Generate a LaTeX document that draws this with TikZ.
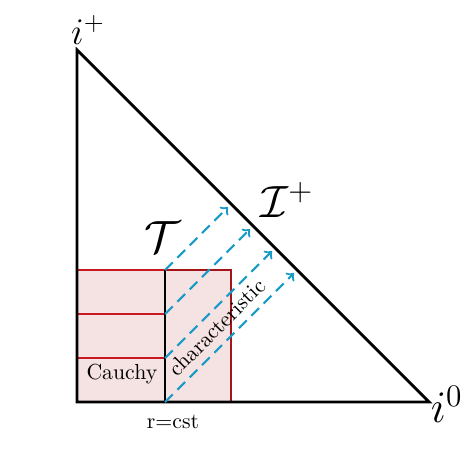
\documentclass[tikz,border=0pt]{standalone}
\usepackage{amsmath}
\usepackage{amssymb}
\usepackage{tikz}
\usetikzlibrary{arrows,positioning,calc}

\definecolor{slicered}{RGB}{200,25,35}
\definecolor{boxred}{RGB}{165,20,25}
\definecolor{regionpink}{RGB}{245,226,226}
\definecolor{raycyan}{RGB}{25,155,200}

\begin{document}
\begin{tikzpicture}[x=0.71cm, y=0.71cm,
            every node/.style={inner sep=1pt},
            edge/.style={draw, line width=1.3pt},
            slice/.style={draw=slicered, line width=1.2pt},
            ray/.style={->, draw=raycyan, line width=1pt, dash pattern=on 5pt off 3pt, shorten >=2pt}]
        \useasboundingbox (-1.75,-1.045) rectangle (9.02,9.136);
        \coordinate (o) at (0,0);
        \coordinate (top) at (0,8);
        \coordinate (right) at (8,0);
        \coordinate (rb) at (2,0);
        \coordinate (rt) at (2,3);
        % data region
        \filldraw[fill=regionpink, draw=boxred, line width=0.6pt] (o) rectangle (3.5,3);
        \foreach \k in {1,2,3} {
            \coordinate (cl\k) at (0,\k);
            \coordinate (cr\k) at (2,\k);
            \draw[slice] (cl\k) -- (cr\k);
        }
        % Penrose triangle
        \draw[edge] (right) -- (o) -- (top) -- cycle;
        \draw[edge] (rb) -- (rt);
        % outgoing characteristics
        \foreach \k in {0,...,3} {
            \coordinate (s\k) at (2,\k);
            \coordinate (e\k) at ({2+(6-\k)/2},{\k+(6-\k)/2});
            \draw[ray] (s\k) -- (e\k);
        }
        \node (iplus) at (0.25,8.45) {\LARGE $i^+$};
        \node (izero) at (8.4,-0.05) {\huge $i^0$};
        \node (timelike) at (1.95,3.75) {\huge $\mathcal{T}$};
        \node (scri) at (4.77,4.59) {\huge $\mathcal{I}^+$};
        \node (cauchy) at (1.02,0.64) {Cauchy};
        \node[rotate=45] (charac) at (3.18,1.7) {characteristic};
        \node (rcst) at (2.18,-0.45) {r=cst};
\end{tikzpicture}
\end{document}
